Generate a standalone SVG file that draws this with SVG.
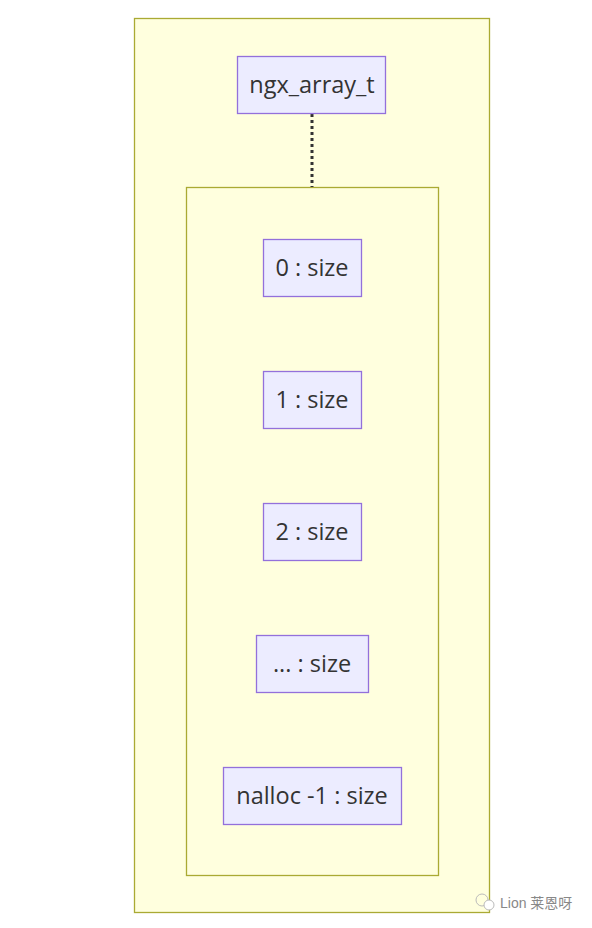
<svg xmlns="http://www.w3.org/2000/svg" width="592" height="928" viewBox="0 0 592 928">
<style>
.cluster{fill:#ffffde;stroke:#aaaa33;stroke-width:1.3}
.node rect{fill:#ececff;stroke:#9370db;stroke-width:1.3}
.node text{font-family:"Open Sans","DejaVu Sans",sans-serif;font-size:23.5px;fill:#333;text-anchor:middle;dominant-baseline:central}
.link{stroke:#333;stroke-width:3;stroke-dasharray:3 3;fill:none}
.wm{font-family:"Liberation Sans","Noto Sans CJK SC",sans-serif;font-size:14px;fill:#888}
</style>
<rect width="592" height="928" fill="#ffffff"/>
<g id="outer"><rect class="cluster" x="134.5" y="18.5" width="355" height="894"/></g>
<g id="inner"><rect class="cluster" x="186.5" y="187.5" width="252" height="688"/></g>
<g id="connectors"><line class="link" x1="312" y1="114" x2="312" y2="187"/></g>
<g id="n-array" class="node"><rect x="237.5" y="56.5" width="148" height="57"/><text x="312" y="84">ngx_array_t</text></g>
<g id="n0" class="node"><rect x="263.5" y="239.5" width="98" height="57"/><text x="312" y="267">0 : size</text></g>
<g id="n1" class="node"><rect x="263.5" y="371.5" width="98" height="57"/><text x="312" y="399">1 : size</text></g>
<g id="n2" class="node"><rect x="263.5" y="503.5" width="98" height="57"/><text x="312" y="531">2 : size</text></g>
<g id="n3" class="node"><rect x="256.5" y="635.5" width="112" height="57"/><text x="312" y="663">... : size</text></g>
<g id="n4" class="node"><rect x="223.5" y="767.5" width="178" height="57"/><text x="312" y="795">nalloc -1 : size</text></g>
<g id="watermark">
<circle cx="482" cy="900" r="6" fill="none" stroke="#bbb" stroke-width="1"/>
<circle cx="489" cy="905" r="5" fill="#fff" stroke="#bbb" stroke-width="1"/>
<text class="wm" x="500" y="908">Lion 莱恩呀</text>
</g>
</svg>
